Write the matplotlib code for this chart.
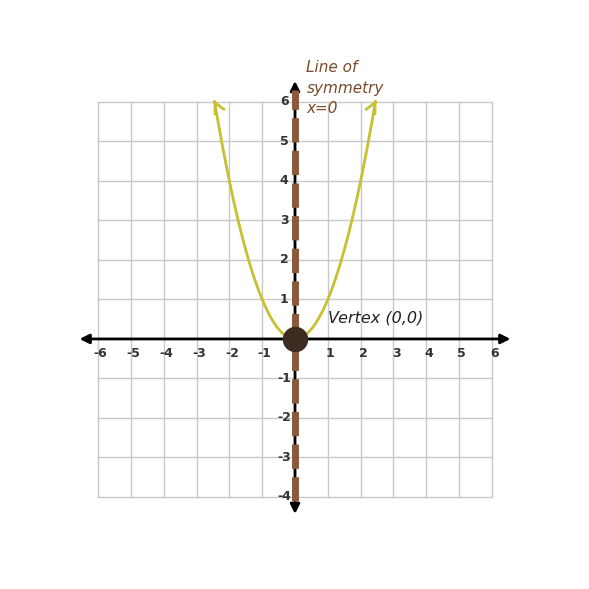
import numpy as np
import matplotlib.pyplot as plt

x_ticks = [-6, -5, -4, -3, -2, -1, 1, 2, 3, 4, 5, 6]
y_ticks = [-4, -3, -2, -1, 1, 2, 3, 4, 5, 6]
curve_x = np.linspace(-2.45, 2.45, 200)
curve_y = curve_x ** 2
vertex = (0, 0)

fig = plt.figure(figsize=(5.89, 5.89), dpi=100)
ax = fig.add_axes([0, 0, 1, 1])
ax.set_xlim(-8.99, 8.96)
ax.set_ylim(-6.33, 8.58)
ax.axis('off')

# grid
for gx in range(-6, 7):
    ax.plot([gx, gx], [-4, 6], color='#c8c8c8', lw=1, zorder=1)
for gy in range(-4, 7):
    ax.plot([-6, 6], [gy, gy], color='#c8c8c8', lw=1, zorder=1)

# axes with arrows
ax.annotate('', xy=(6.65, 0), xytext=(-6.65, 0),
            arrowprops=dict(arrowstyle='<|-|>', color='black', lw=2, mutation_scale=14), zorder=3)
ax.annotate('', xy=(0, 6.6), xytext=(0, -4.5),
            arrowprops=dict(arrowstyle='<|-|>', color='black', lw=2, mutation_scale=14), zorder=3)

# parabola
ax.plot(curve_x, curve_y, color='#c8c030', lw=2, zorder=4)
for sx in (-1, 1):
    x0 = sx * 2.45
    ax.annotate('', xy=(x0 + sx * 0.03, 6.05), xytext=(x0, 6.0),
                arrowprops=dict(arrowstyle='->', color='#c8c030', lw=2, mutation_scale=18), zorder=4)

# line of symmetry
ax.plot([0, 0], [-4.1, 6.3], color='#8b5a3c', lw=5, dashes=(3.5, 1.2), zorder=5)
ax.scatter([vertex[0]], [vertex[1]], s=300, color='#3d2b22', zorder=6)

for t in x_ticks:
    ax.text(t + 0.08, -0.38, str(t), ha='center', va='center', fontsize=9, fontweight='bold', color='#333333', zorder=7)
for t in y_ticks:
    ax.text(-0.33, t, str(t), ha='center', va='center', fontsize=9, fontweight='bold', color='#333333', zorder=7)

ax.text(0.35, 6.35, 'Line of\nsymmetry\nx=0', fontsize=11, style='italic', color='#7a4a2a',
        ha='left', va='center', linespacing=1.45)
ax.text(1.0, 0.52, 'Vertex (0,0)', fontsize=11.5, style='italic', color='#222222', ha='left', va='center')

fig.savefig('out.png', dpi=100)
